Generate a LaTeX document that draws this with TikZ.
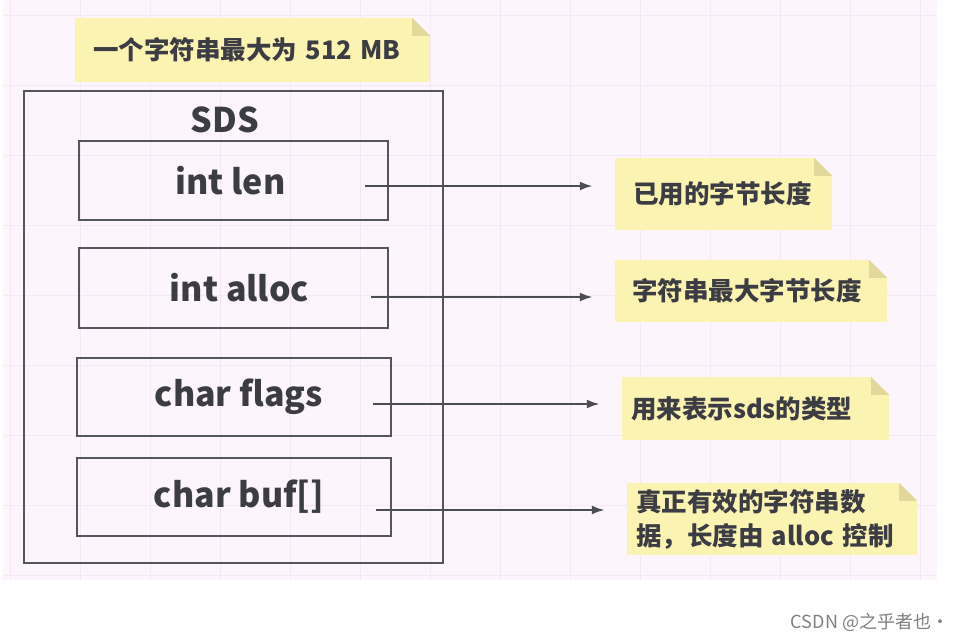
\documentclass[tikz,border=0pt]{standalone}
\usepackage{fontspec}
\setmainfont{Noto Sans CJK SC}
\usetikzlibrary{arrows.meta}
\definecolor{bgpink}{HTML}{FCF6FC}
\definecolor{gridpink}{HTML}{F4E8F4}
\definecolor{noteyel}{HTML}{FBF3B2}
\definecolor{notefold}{HTML}{E2D89C}
\definecolor{boxline}{HTML}{55555E}
\definecolor{txt}{HTML}{3C3C44}
\tikzset{
  fieldbox/.style={draw=boxline, line width=2.2pt, minimum width=309pt, minimum height=79pt, inner sep=0pt,
    font=\fontsize{34}{38}\selectfont\bfseries, text=txt},
  notebox/.style={fill=noteyel, inner ysep=0pt, align=left,
    font=\fontsize{25.5}{34}\selectfont\bfseries, text=txt},
  arr/.style={draw=boxline!90!black, line width=2.3pt, -{Latex[length=13pt,width=9pt]}, shorten >=22pt},
}
\newcommand{\fold}[1]{%
  \fill[bgpink] ([xshift=-18pt]#1.north east) -- (#1.north east) -- ([yshift=-18pt]#1.north east) -- cycle;
  \fill[notefold] ([xshift=-18pt]#1.north east) -- ([xshift=-18pt,yshift=-18pt]#1.north east) -- ([yshift=-18pt]#1.north east) -- cycle;}
\begin{document}
\begin{tikzpicture}[x=1pt,y=-1pt]
\useasboundingbox (0,0) rectangle (964,640);
\fill[white] (0,0) rectangle (964,640);
\fill[bgpink] (3,0) rectangle (937,580);
\foreach \gx in {10,80,150,220,290,360,430,500,570,640,710,780,850,920}
  \draw[gridpink, line width=0.8pt] (\gx,0) -- (\gx,580);
\foreach \gy in {15,85,155,225,295,365,435,505,575}
  \draw[gridpink, line width=0.8pt] (3,\gy) -- (937,\gy);

% top note
\node[notebox, inner xsep=18pt, text width=319pt, minimum height=64pt] (top) at (252.5,50) {一个字符串最大为 512 MB};
\fold{top}

% outer SDS box
\node[draw=boxline, line width=2.2pt, minimum width=419pt, minimum height=472pt, inner sep=0pt] (sds) at (233.5,327) {};
\node[font=\fontsize{34}{38}\selectfont\bfseries, text=txt] (sdst) at (225,120) {SDS};

% fields
\node[fieldbox] (len) at (233.5,180.5) {\hspace*{-6pt}int len};
\node[fieldbox, minimum height=80pt] (alloc) at (233.5,288) {\hspace*{12pt}int alloc};
\node[fieldbox, minimum width=314pt, minimum height=78pt] (flags) at (234,397) {\hspace*{10pt}char flags};
\node[fieldbox, minimum width=314pt, minimum height=78pt] (buf) at (234,497) {\hspace*{10pt}char buf[]};

% notes
\node[notebox, inner xsep=18pt, text width=181pt, minimum height=72pt] (n1) at (723.5,194) {已用的字节长度};
\node[notebox, inner xsep=17pt, text width=238pt, minimum height=62pt] (n2) at (751,291) {字符串最大字节长度};
\node[notebox, inner xsep=9pt, text width=249pt, minimum height=63pt] (n3) at (755.5,408.5) {用来表示sds的类型};
\node[notebox, inner xsep=9pt, text width=272pt, minimum height=72pt] (n4) at (772,519) {真正有效的字符串数\\据，长度由 alloc 控制};
\fold{n1}\fold{n2}\fold{n3}\fold{n4}

% arrows
\coordinate (s1) at (365,186);
\coordinate (s2) at (371,297);
\coordinate (s3) at (373,404);
\coordinate (s4) at (376,510);
\draw[arr] (s1) -- (s1 -| n1.west);
\draw[arr] (s2) -- (s2 -| n2.west);
\draw[arr] (s3) -- (s3 -| n3.west);
\draw[arr] (s4) -- (s4 -| n4.west);

% watermark
\node[font=\fontsize{18}{21}\selectfont, text=black!50] (wm) at (870,622) {CSDN @之乎者也·};
\end{tikzpicture}
\end{document}
